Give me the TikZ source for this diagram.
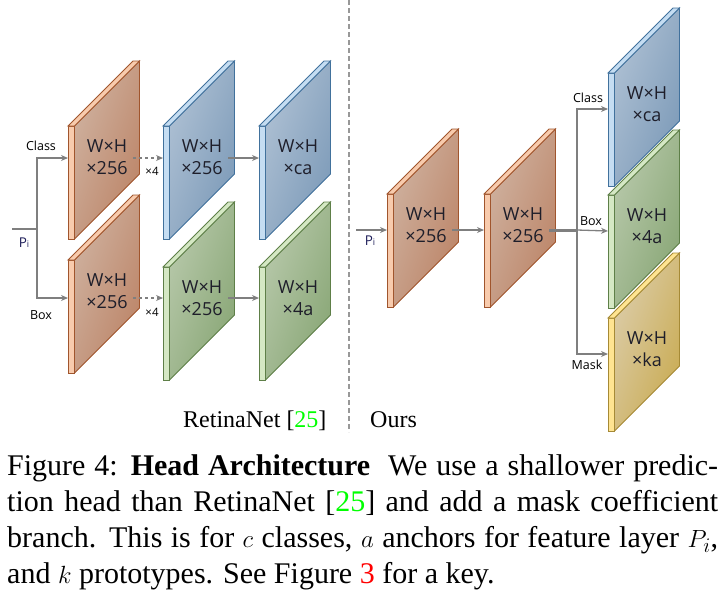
\documentclass[tikz,border=0pt]{standalone}
\usepackage{fontspec}
\setmainfont{Liberation Serif}
\newfontfamily\segoe{Open Sans}
\usetikzlibrary{arrows.meta}

\definecolor{orgS}{HTML}{F8CBAD}
\definecolor{orgL}{HTML}{CFB2A0}
\definecolor{orgR}{HTML}{BC8467}
\definecolor{orgE}{HTML}{A0552D}
\definecolor{bluS}{HTML}{C5DDF2}
\definecolor{bluL}{HTML}{AFC1D4}
\definecolor{bluR}{HTML}{7C9AB8}
\definecolor{bluE}{HTML}{41719C}
\definecolor{grnS}{HTML}{D5E8C4}
\definecolor{grnL}{HTML}{B8C9AB}
\definecolor{grnR}{HTML}{88A675}
\definecolor{grnE}{HTML}{5E7F48}
\definecolor{ylwS}{HTML}{FFE491}
\definecolor{ylwL}{HTML}{DCCDAA}
\definecolor{ylwR}{HTML}{C9AB52}
\definecolor{ylwE}{HTML}{A68A36}
\definecolor{arrgray}{HTML}{7F7F7F}
\definecolor{txtdark}{HTML}{1E1E2A}
\definecolor{pnavy}{HTML}{1C1C58}

\tikzset{
  conn/.style={draw=arrgray, line width=1.3pt, -{Stealth[length=7pt,width=6pt]}},
  feed/.style={draw=arrgray, line width=2.4pt},
  ptxt/.style={font=\segoe\fontsize{18}{22}\selectfont, align=center, text=txtdark, inner sep=0},
  lbl/.style={font=\segoe\fontsize{12.5}{14}\selectfont, inner sep=0},
  times/.style={font=\segoe\fontsize{11.5}{13}\selectfont, inner sep=0},
  capline/.style={font=\fontsize{30}{36.3}\selectfont, anchor=base west, inner sep=0},
}

\begin{document}
\begin{tikzpicture}[x=1pt,y=-1pt]
\useasboundingbox (0,0) rectangle (724,595);

% feature maps: x / y / arrow row / colour / channels / name
\foreach \x/\y/\ay/\col/\ch/\n in {68/126/158/org/256/lc1, 68/260/298/org/256/lb1,
    163/126/158/blu/256/lc2, 259/126/158/blu/ca/lc3,
    163/267/298/grn/256/lb2, 259/267/298/grn/4a/lb3,
    387/194/230/org/256/o1, 484/194/230/org/256/o2,
    608/73/109/blu/ca/oc, 608/195/231/grn/4a/ob, 608/318/354/ylw/ka/om}
{
  \shade[left color=\col L, right color=\col R, shading angle=70, draw=\col E, line width=0.9pt]
    (\x+6.5,\y) -- ++(65,-65) -- ++(0,113) -- ++(-65,65) -- cycle;
  \filldraw[fill=\col S, draw=\col E, line width=0.9pt] (\x,\y) rectangle ++(6.5,113);
  \filldraw[fill=\col S, draw=\col E, line width=0.9pt]
    (\x,\y) -- ++(6.5,0) -- ++(65,-65) -- ++(-6.5,0) -- cycle;
  \node[ptxt] (\n) at (\x+39,\y+31) {W×H\\×\ch};
  \coordinate (\n-in) at (\x,\ay);
  \coordinate (\n-out) at (\x+65,\ay);
}

% RetinaNet head
\coordinate (pin) at (12,229);
\coordinate (split) at (37,229);
\draw[feed] (pin) -- (split);
\draw[conn] (split) |- (lc1-in);
\draw[conn] (split) |- (lb1-in |- lb2-in);
\draw[conn, dashed] (lc1-out) -- (lc2-in);
\draw[conn, dashed] (lb1-out |- lb2-in) -- (lb2-in);
\draw[conn] (lc2-out) -- (lc3-in);
\draw[conn] (lb2-out) -- (lb3-in);
\node[lbl] (cls1) at (41,146) {Class};
\node[lbl] (box1) at (41,315) {Box};
\node[lbl, text=pnavy] (pi1) at (24,243) {\fontsize{13.5}{14}\selectfont P{\fontsize{9}{9}\selectfont i}};
\node[times] (rep1) at (152,171) {×4};
\node[times] (rep2) at (152,312) {×4};

% divider
\coordinate (dtop) at (349,0);
\coordinate (dbot) at (349,432);
\draw[arrgray!80, line width=1.3pt, dash pattern=on 5pt off 3pt] (dtop) -- (dbot);

% our head
\coordinate (qin) at (356,230);
\coordinate (fork) at (577,230);
\draw[conn] (qin) -- (o1-in);
\draw[conn] (o1-out) -- (o2-in);
\draw[feed, line width=3pt] (o2-out) -- (fork);
\draw[conn] (fork) |- (oc-in);
\draw[conn] (fork) -- (ob-in);
\draw[conn] (fork) |- (om-in);
\draw[draw=arrgray, line width=1.3pt] (fork |- oc-in) -- (fork |- om-in);
\node[lbl, text=pnavy] (pi2) at (370,241) {\fontsize{13.5}{14}\selectfont P{\fontsize{9}{9}\selectfont i}};
\node[lbl] (cls2) at (588,98) {Class};
\node[lbl] (box2) at (591,221) {Box};
\node[lbl] (msk2) at (587,365) {Mask};

% titles
\node[anchor=base west, inner sep=0, font=\fontsize{24}{28}\selectfont] (ttl1) at (183,427)
  {RetinaNet [\textcolor{green}{25}]};
\node[anchor=base west, inner sep=0, font=\fontsize{24}{28}\selectfont] (ttl2) at (370,427) {Ours};

% caption
\node[capline] (cap1) at (7,475)
  {\hbox to 711pt{Figure 4: \textbf{Head Architecture}\hskip 0.6em We use a shallower predic-}};
\node[capline] (cap2) at (7,511.3)
  {\hbox to 711pt{tion head than RetinaNet [\textcolor{green}{25}] and add a mask coefficient}};
\node[capline] (cap3) at (7,547.6)
  {\hbox to 711pt{branch. This is for $c$ classes, $a$ anchors for feature layer $P_i$,}};
\node[capline] (cap4) at (7,583.9)
  {and $k$ prototypes. See Figure \textcolor{red}{3} for a key.};

\end{tikzpicture}
\end{document}
